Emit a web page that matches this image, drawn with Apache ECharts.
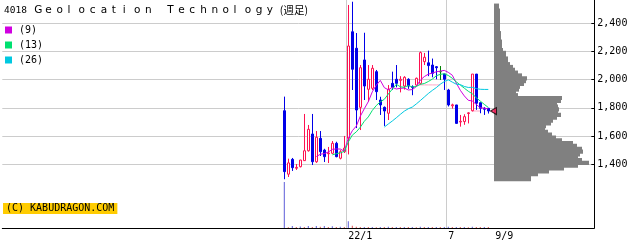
<!DOCTYPE html>
<html><head><meta charset="utf-8">
<script src="https://cdn.jsdelivr.net/npm/echarts@6/dist/echarts.min.js"></script>
<style>html,body{margin:0;padding:0;background:#fff}#c{width:640px;height:241px}</style>
</head><body><div id="c"></div>
<script>
// ---- data ----
const weeks = ['2021/09/17','2021/09/24','2021/10/01','2021/10/08','2021/10/15','2021/10/22','2021/10/29','2021/11/05','2021/11/12','2021/11/19','2021/11/26','2021/12/03','2021/12/10','2021/12/17','2021/12/24','2021/12/31','2022/01/07','2022/01/14','2022/01/21','2022/01/28','2022/02/04','2022/02/11','2022/02/18','2022/02/25','2022/03/04','2022/03/11','2022/03/18','2022/03/25','2022/04/01','2022/04/08','2022/04/15','2022/04/22','2022/04/29','2022/05/06','2022/05/13','2022/05/20','2022/05/27','2022/06/03','2022/06/10','2022/06/17','2022/06/24','2022/07/01','2022/07/08','2022/07/15','2022/07/22','2022/07/29','2022/08/05','2022/08/12','2022/08/19','2022/08/26','2022/09/02','2022/09/09'];
const opens  = [1780,1330,1435,1372,1383,1426,1496,1615,1418,1584,1501,1475,1478,1549,1443,1489,1584,2340,2223,1804,2140,1932,1939,2057,1856,1804,1762,1974,2003,1995,1955,2003,1950,1962,1974,2128,2120,2104,2092,2057,2041,1927,1815,1821,1700,1703,1760,1780,2040,1837,1797,1797];
const closes = [1348,1410,1376,1378,1430,1496,1648,1418,1592,1489,1454,1480,1549,1454,1489,1515,2239,2074,1785,2085,1955,2003,2081,1915,1821,1778,1932,1946,1974,2003,2017,1955,1945,2010,2192,2159,2100,2045,2085,2057,2003,1821,1822,1690,1705,1738,1765,2040,1833,1797,1790,1778];
const lows   = [1294,1310,1353,1360,1378,1424,1490,1395,1410,1459,1416,1409,1475,1450,1435,1480,1470,1927,1657,1643,1856,1844,1927,1856,1750,1672,1714,1927,1946,1910,1930,1935,1890,1955,1965,2104,2025,2017,2003,1998,1927,1810,1795,1690,1667,1680,1690,1775,1786,1762,1750,1760];
const highs  = [1880,1440,1445,1402,1432,1757,1679,1757,1636,1636,1510,1523,1565,1560,1500,1601,2530,2553,2331,2104,2333,2104,2104,2069,1879,1810,1962,2057,2104,2025,2025,2010,1960,2015,2200,2190,2206,2150,2097,2097,2041,1935,1830,1821,1750,1755,1770,2040,2040,1837,1805,1800];
const volumes = [460,8,20,9,14,10,20,11,20,12,20,9,18,10,12,9,68,22,12,10,11,9,10,8,11,9,12,9,10,9,10,9,10,8,12,10,11,9,10,9,10,12,9,10,9,10,8,12,10,9,10,9];
const ma9  = ['-','-','-','-','-','-','-','-',1455,1471,1476,1487,1506,1509,1508,1493,1585,1638,1671,1741,1794,1844,1914,1961,1995,1944,1928,1946,1934,1939,1941,1927,1930,1951,1997,2022,2039,2047,2056,2061,2066,2052,2032,1976,1925,1885,1854,1849,1824,1801,1798,1793];
const ma13 = ['-','-','-','-','-','-','-','-','-','-','-','-',1467,1475,1481,1492,1558,1607,1630,1663,1705,1736,1782,1817,1843,1861,1898,1933,1968,1950,1946,1959,1948,1952,1967,1973,1987,2004,2028,2038,2042,2030,2010,1985,1962,1940,1918,1900,1872,1848,1825,1803];
const ma26 = ['-','-','-','-','-','-','-','-','-','-','-','-','-','-','-','-','-','-','-','-','-','-','-','-','-',1664,1686,1707,1730,1754,1777,1794,1806,1828,1852,1877,1902,1924,1944,1968,1987,1999,1983,1968,1965,1952,1945,1946,1937,1932,1931,1931];
const supportLevels = [
  {from:'2022/05/06', to:'2022/06/17', price:1963},
  {from:'2022/08/12', to:'2022/08/26', price:1778}
];
const profilePrices  = [1280,1300,1320,1340,1360,1380,1400,1420,1440,1460,1480,1500,1520,1540,1560,1580,1600,1620,1640,1660,1680,1700,1720,1740,1760,1780,1800,1820,1840,1860,1880,1900,1920,1940,1960,1980,2000,2020,2040,2060,2080,2100,2120,2140,2160,2180,2200,2220,2240,2260,2280,2300,2320,2340,2360,2380,2400,2420,2440,2460,2480,2500,2520];
const profileVolumes = [37,37,44,55,70,84,95,88,84,86,89,88,83,79,68,62,58,54,51,52,57,59,63,67,64,65,64,63,67,68,24,22,25,26,30,32,33,28,24,21,19,16,14,14,12,12,9,8,8,8,7,7,7,6,6,6,6,6,6,6,6,5,5];
const tickLabels = {'2022/01/07':'22/1','2022/07/01':'7','2022/09/09':'9/9'};
const gridLineDates = ['2022/01/07','2022/07/01'];
const seriesNames = ['(9)','(13)','(26)'];
const titleCode = '4018', titleName = 'Geolocation Technology', titleSuffix = '(週足)';
const copyright = '(C) KABUDRAGON.COM';

// ---- layout ----
const LEAD = 70, TRAIL = 26;
const cats = [];
for (let i = 0; i < LEAD; i++) cats.push('L' + i);
weeks.forEach(w => cats.push(w));
for (let i = 0; i < TRAIL; i++) cats.push('T' + i);
const xi = i => LEAD + i;
const mono = '"DejaVu Sans Mono", monospace';
const RED = '#ff1050', BLUE = '#0000e8';

const maSeries = [ma9, ma13, ma26].map((arr, k) => ({
  type: 'line', name: seriesNames[k], xAxisIndex: 0, yAxisIndex: 0,
  data: arr.map((v, i) => [xi(i), v]).filter(d => d[1] !== '-'),
  showSymbol: false, symbol: 'none', clip: false, z: 3,
  lineStyle: {width: 1}, color: ['#d000e0', '#00e070', '#00c8e0'][k]
}));

const supportSeries = supportLevels.map(s => {
  const a = weeks.indexOf(s.from), b = weeks.indexOf(s.to);
  const d = [];
  for (let i = a; i <= b; i++) d.push([xi(i), s.price]);
  return {type: 'line', xAxisIndex: 0, yAxisIndex: 0, data: d, showSymbol: false, symbol: 'none',
    lineStyle: {width: 1, color: '#ffa8c8'}, z: 1, silent: true};
});

const titleRich = '{c|' + titleCode + '}' + titleName.split('').map(ch => '{g|' + ch + '}').join('') + '{j|' + titleSuffix + '}';

const option = {
  animation: false,
  backgroundColor: '#fff',
  title: {
    text: titleRich, left: 4, top: 5, padding: 0,
    textStyle: {
      fontWeight: 'normal',
      rich: {
        c: {width: 30.3, fontSize: 9.5, fontFamily: mono, fontWeight: 'normal', color: '#000'},
        g: {width: 11.07, fontSize: 10.5, fontFamily: '"DejaVu Sans", sans-serif', fontWeight: 'normal', color: '#000'},
        j: {fontSize: 10.5, fontFamily: '"Noto Sans CJK JP", sans-serif', fontWeight: 'normal', color: '#000', padding: [0, 0, 0, 2]}
      }
    }
  },
  legend: {
    data: seriesNames, orient: 'vertical', left: 5, top: 25, padding: 0,
    icon: 'rect', itemWidth: 7, itemHeight: 7, itemGap: 5,
    textStyle: {fontSize: 10, fontFamily: mono, color: '#000', lineHeight: 10, padding: [0, 0, 0, 2]}
  },
  graphic: [{
    type: 'text', left: 3, top: 203,
    style: {text: copyright, font: '10px ' + mono, fill: '#000', backgroundColor: '#ffcc00', padding: [0, 3, 0, 3], lineHeight: 11}
  }],
  grid: [
    {left: 2.3, right: 45.7, top: 23.3, bottom: 76.7},
    {left: 2.3, right: 45.7, top: 0, bottom: 13},
    {left: 494, right: 45, top: 3.56, bottom: 59.8}
  ],
  xAxis: [
    {gridIndex: 0, type: 'category', data: cats, show: false},
    {gridIndex: 1, type: 'category', data: cats,
      axisLine: {show: true, lineStyle: {color: '#000', width: 1}},
      axisTick: {show: false},
      splitLine: {show: true, interval: (idx, val) => gridLineDates.indexOf(val) >= 0, lineStyle: {color: '#cccccc', width: 1}},
      axisLabel: {
        show: true, interval: (idx, val) => tickLabels[val] !== undefined, align: 'left', margin: 3,
        fontSize: 10, fontFamily: mono, color: '#000',
        formatter: val => val === weeks[weeks.length - 1] ? '{e|' + tickLabels[val] + '}' : (tickLabels[val] || ''),
        rich: {e: {fontSize: 10, fontFamily: mono, color: '#000', padding: [0, 0, 0, 7]}}
      }},
    {gridIndex: 2, type: 'value', min: 0, max: 101, show: false}
  ],
  yAxis: [
    {gridIndex: 0, type: 'value', position: 'right', min: 1400, max: 2400, interval: 200,
      axisLine: {show: false},
      axisTick: {show: true, inside: true, length: 3, lineStyle: {color: '#000'}},
      axisLabel: {margin: 3, fontSize: 10, fontFamily: mono, color: '#000'},
      splitLine: {show: true, lineStyle: {color: '#cccccc', width: 1}}},
    {gridIndex: 1, type: 'value', position: 'right', min: 0, max: 2280,
      axisLine: {show: true, lineStyle: {color: '#000', width: 1}},
      axisTick: {show: false}, axisLabel: {show: false}, splitLine: {show: false}},
    {gridIndex: 2, type: 'category', data: profilePrices, show: false}
  ],
  series: [
    {type: 'bar', name: 'vol', xAxisIndex: 1, yAxisIndex: 1, barWidth: 1, silent: true,
      data: volumes.map((v, i) => ({value: [xi(i), v],
        itemStyle: {color: (i === 0 || v >= volumes[i - 1]) ? '#5c5cd8' : '#e05050'}}))},
    {type: 'bar', name: 'profile', xAxisIndex: 2, yAxisIndex: 2, barWidth: 4.2,
      data: profileVolumes, itemStyle: {color: '#808080'}, silent: true},
    ...supportSeries,
    {type: 'candlestick', name: 'price', xAxisIndex: 0, yAxisIndex: 0, barWidth: 3, clip: false, z: 2,
      data: weeks.map((w, i) => [xi(i), opens[i], closes[i], lows[i], highs[i]]),
      encode: {x: 0, y: [1, 2, 3, 4]},
      itemStyle: {color: '#ffffff', color0: BLUE, borderColor: RED, borderColor0: BLUE, borderColorDoji: '#008000', borderWidth: 1}},
    ...maSeries,
    {type: 'scatter', name: 'last', xAxisIndex: 0, yAxisIndex: 0, clip: false, z: 5,
      data: [[xi(weeks.length), closes[closes.length - 1]]],
      symbol: 'triangle', symbolSize: [7, 6], symbolRotate: 90, symbolOffset: [1.2, 0],
      itemStyle: {color: '#ff1050', borderColor: '#000', borderWidth: 1}}
  ]
};
const chart = echarts.init(document.getElementById('c'), null, {renderer: 'canvas'});
chart.setOption(option);
</script>
</body></html>
